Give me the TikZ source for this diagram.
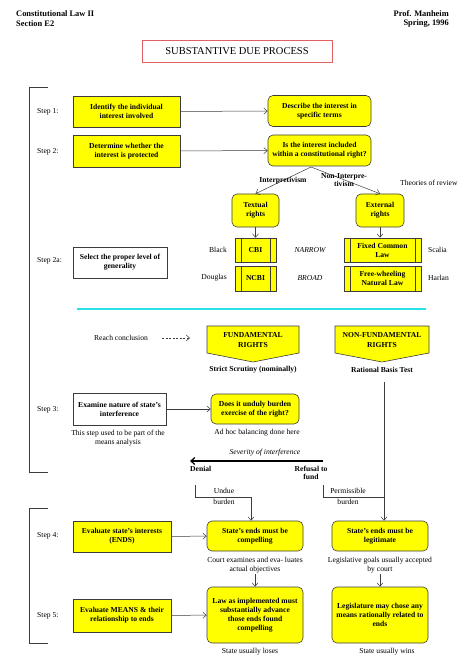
\documentclass[tikz,border=0pt]{standalone}
\usepackage{fontspec}
\setmainfont{Liberation Serif}
\usetikzlibrary{arrows.meta}
\definecolor{boxyellow}{RGB}{255,255,0}
\definecolor{cyanline}{RGB}{40,225,230}
\definecolor{titlered}{RGB}{225,95,95}
\definecolor{edge}{RGB}{60,60,60}
\tikzset{
  txt/.style={font=\fontsize{7.6}{9}\selectfont, inner sep=1pt, align=center},
  btxt/.style={font=\fontsize{7.6}{9}\selectfont\bfseries, inner sep=1pt, align=center},
  sqbox/.style={draw=edge, line width=0.6pt, fill=boxyellow, align=center,
    font=\fontsize{7.6}{9.2}\selectfont\bfseries, inner sep=0pt},
  rbox/.style={sqbox, rounded corners=5pt},
  wbox/.style={sqbox, fill=white},
  ppbox/.style={sqbox, path picture={
    \draw[edge, line width=0.6pt] ([xshift=6pt]path picture bounding box.north west) -- ([xshift=6pt]path picture bounding box.south west);
    \draw[edge, line width=0.6pt] ([xshift=-6pt]path picture bounding box.north east) -- ([xshift=-6pt]path picture bounding box.south east);}},
  arr/.style={draw=edge, line width=0.5pt, -{Straight Barb[length=3.5pt,width=6pt]}},
  plain/.style={draw=edge, line width=0.5pt},
  bigarr/.style={draw=black, line width=1.2pt, -{Straight Barb[length=4pt,width=7pt]}},
  bracket/.style={draw=edge, line width=0.6pt},
  offpage/.style={draw=edge, line width=0.6pt, fill=boxyellow}
}
\begin{document}
\begin{tikzpicture}[x=1pt,y=-1pt]
\useasboundingbox (0,0) rectangle (474,668);

% header
\node[btxt, font=\fontsize{8.4}{10}\selectfont\bfseries, anchor=west] (h1) at (15,14) {Constitutional Law II};
\node[btxt, font=\fontsize{8.4}{10}\selectfont\bfseries, anchor=west] (h2) at (15,24) {Section E2};
\node[btxt, font=\fontsize{8.4}{10}\selectfont\bfseries, anchor=east] (h3) at (450,14) {Prof. Manheim};
\node[btxt, font=\fontsize{8.4}{10}\selectfont\bfseries, anchor=east] (h4) at (450,24) {Spring, 1996};
\node[draw=titlered, line width=0.8pt, minimum width=190pt, minimum height=22pt, font=\fontsize{10.5}{12}\selectfont] (title) at (237,51) {SUBSTANTIVE DUE PROCESS};

% brackets
\draw[bracket] (48,87) -- (29,87) -- (29,472) -- (48,472);
\draw[bracket] (48,508) -- (29,508) -- (29,643) -- (48,643);

% step labels
\node[txt, anchor=west] (s1) at (36,112) {Step 1:};
\node[txt, anchor=west] (s2) at (36,152) {Step 2:};
\node[txt, anchor=west] (s2a) at (36,261) {Step 2a:};
\node[txt, anchor=west] (s3) at (36,410) {Step 3:};
\node[txt, anchor=west] (s4) at (36,536) {Step 4:};
\node[txt, anchor=west] (s5) at (36,616) {Step 5:};

% step 1 & 2
\node[sqbox, minimum width=107pt, minimum height=31pt] (ident) at (126.5,111.5) {Identify the individual\\interest involved};
\node[rbox, minimum width=103pt, minimum height=31pt] (descr) at (319.5,111) {Describe the interest in\\specific terms};
\node[sqbox, minimum width=107pt, minimum height=32pt] (determ) at (126.5,151) {Determine whether the\\interest is protected};
\node[rbox, minimum width=103pt, minimum height=31pt] (isin) at (319.5,150.5) {Is the interest included\\within a constitutional right?};
\draw[arr] (ident) -- (descr);
\draw[arr] (determ) -- (isin);

% theories
\coordinate (apex) at (311,167);
\node[rbox, minimum width=47pt, minimum height=33pt] (textual) at (255.5,210.5) {Textual\\rights};
\node[rbox, minimum width=48pt, minimum height=33pt] (external) at (380,210.5) {External\\rights};
\draw[arr] (apex) -- (textual.north);
\draw[arr] (apex) -- (external.north);
\node[btxt] (interp) at (283,181) {Interpretivism};
\node[btxt, font=\fontsize{7.6}{8.6}\selectfont\bfseries] (noninterp) at (344,180) {Non-Interpre-\\tivism};
\node[txt, anchor=west] (theories) at (399,183) {Theories of review};

\node[ppbox, minimum width=41pt, minimum height=24pt] (cbi) at (255.5,250) {CBI};
\node[ppbox, minimum width=41pt, minimum height=25pt] (ncbi) at (255.5,278.5) {NCBI};
\node[ppbox, minimum width=77pt, minimum height=24pt] (fcl) at (382.5,250) {Fixed Common\\Law};
\node[ppbox, minimum width=77pt, minimum height=25pt] (fnl) at (382.5,278.5) {Free-wheeling\\Natural Law};
\draw[arr] (textual.south) -- (cbi.north);
\draw[arr] (external.south) -- (external.south |- fcl.north);

\node[txt, anchor=east] (black) at (228,250) {Black};
\node[txt, anchor=east] (douglas) at (228,278) {Douglas};
\node[txt, font=\fontsize{7.6}{9}\selectfont\itshape] (narrow) at (310,250) {NARROW};
\node[txt, font=\fontsize{7.6}{9}\selectfont\itshape] (broad) at (310,278) {BROAD};
\node[txt, anchor=west] (scalia) at (427,250) {Scalia};
\node[txt, anchor=west] (harlan) at (427,278) {Harlan};

\node[wbox, minimum width=94pt, minimum height=31pt] (select) at (120,262.5) {Select the proper level of\\generality};

% cyan divider
\draw[cyanline, line width=2pt] (77,309) -- (426,309);

% conclusion
\node[txt] (reach) at (121,338) {Reach conclusion};
\coordinate (dashS) at (162,338);
\coordinate (dashE) at (190,338);
\draw[arr, dashed, dash pattern=on 2pt off 1.5pt] (dashS) -- (dashE);

\draw[offpage] (207,326) -- (299,326) -- (299,353) -- (253,362) -- (207,353) -- cycle;
\node[btxt, font=\fontsize{7.6}{10}\selectfont\bfseries] (fund) at (253,340) {FUNDAMENTAL\\RIGHTS};
\draw[offpage] (335,326) -- (429,326) -- (429,353) -- (382,362) -- (335,353) -- cycle;
\node[btxt, font=\fontsize{7.6}{10}\selectfont\bfseries] (nonfund) at (382,340) {NON-FUNDAMENTAL\\RIGHTS};
\node[btxt] (strict) at (253,370) {Strict Scrutiny (nominally)};
\node[btxt] (rbt) at (382,370) {Rational Basis Test};

% step 3
\node[wbox, minimum width=93pt, minimum height=32pt] (examine) at (119.5,409) {Examine nature of state's\\interference};
\node[rbox, minimum width=88pt, minimum height=30pt] (burden) at (255,409) {Does it unduly burden\\exercise of the right?};
\draw[arr] (examine) -- (burden);
\node[txt, font=\fontsize{7.6}{8.6}\selectfont] (stepused) at (118,438) {This step used to be part of the\\means analysis};
\node[txt] (adhoc) at (257,433) {Ad hoc balancing done here};

\node[txt, font=\fontsize{7.6}{9}\selectfont\itshape] (severity) at (265,453) {Severity of interference};
\coordinate (sevR) at (323,461);
\coordinate (sevL) at (190,461);
\draw[bigarr] (sevR) -- (sevL);
\node[btxt, anchor=west] (denial) at (189,468.5) {Denial};
\node[btxt, font=\fontsize{7.6}{8.6}\selectfont\bfseries] (refusal) at (311,473) {Refusal to\\fund};

\node[txt, font=\fontsize{7.6}{10.5}\selectfont] (undue) at (224,496.5) {Undue\\burden};
\node[txt, font=\fontsize{7.6}{10.5}\selectfont] (permis) at (348,496.5) {Permissible\\burden};

% step 4
\node[sqbox, minimum width=98pt, minimum height=31pt] (ends) at (122,536.5) {Evaluate state's interests\\(ENDS)};
\node[rbox, minimum width=96pt, minimum height=30pt] (comp) at (255,536) {State's ends must be\\compelling};
\node[rbox, minimum width=96pt, minimum height=30pt] (legit) at (380,536) {State's ends must be\\legitimate};
\draw[arr] (ends) -- (comp);

\coordinate (ub1) at (195,485);
\coordinate (ub2) at (251,497);
\draw[plain] (ub1) |- (ub2);
\draw[arr] (ub2) -- (ub2 |- comp.north);

\coordinate (vtop) at (384,382);
\draw[arr] (vtop) -- (vtop |- legit.north);
\coordinate (pb1) at (323,485);
\draw[plain] (pb1) |- (vtop |- ub2);

\node[txt, font=\fontsize{7.6}{9.5}\selectfont] (courtex) at (255,565) {Court examines and eva- luates\\actual objectives};
\node[txt, font=\fontsize{7.6}{9.5}\selectfont] (leggoals) at (380,565) {Legislative goals usually accepted\\by court};

% step 5
\node[sqbox, minimum width=98pt, minimum height=33pt] (means) at (122,615.5) {Evaluate MEANS \& their\\relationship to ends};
\node[rbox, minimum width=96pt, minimum height=56pt] (law) at (255,615) {Law as implemented must\\substantially advance\\those ends found\\compelling};
\node[rbox, minimum width=96pt, minimum height=56pt] (legis) at (380,615) {Legislature may chose any\\means rationally related to\\ends};
\draw[arr] (means) -- (law);
\draw[arr] (law.north |- courtex.south) -- (law.north);
\draw[arr] (legis.north |- leggoals.south) -- (legis.north);

\node[txt] (loses) at (250,652) {State usually loses};
\node[txt] (wins) at (387,652) {State usually wins};
\end{tikzpicture}
\end{document}
